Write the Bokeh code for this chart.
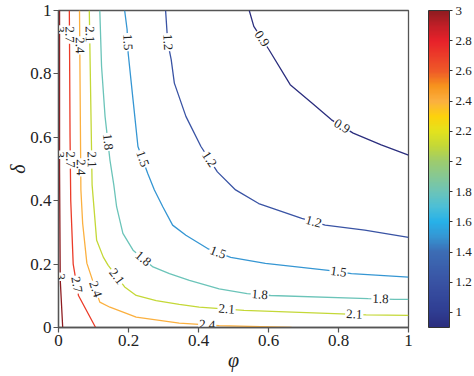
import math
from bokeh.plotting import figure
from bokeh.models import (ColumnDataSource, LinearColorMapper, ColorBar, FixedTicker, Range1d)
from bokeh.transform import transform
from bokeh.core.properties import value
from bokeh.embed import file_html
from bokeh.resources import INLINE

# ---------------- data ----------------
levels = [0.9, 1.2, 1.5, 1.8, 2.1, 2.4, 2.7, 3.0]
level_text = ["0.9", "1.2", "1.5", "1.8", "2.1", "2.4", "2.7", "3"]

phi_09 = [0.545, 0.558, 0.601, 0.662, 0.724, 0.780, 0.842, 0.922, 1.0]
delta_09 = [1.0, 0.950, 0.877, 0.766, 0.708, 0.655, 0.613, 0.576, 0.544]

phi_12 = [0.306, 0.312, 0.322, 0.331, 0.364, 0.407, 0.454, 0.506, 0.572, 0.695, 0.762, 0.875, 1.0]
delta_12 = [1.0, 0.90, 0.845, 0.771, 0.666, 0.571, 0.491, 0.434, 0.391, 0.344, 0.323, 0.307, 0.284]

phi_15 = [0.189, 0.196, 0.199, 0.213, 0.227, 0.255, 0.274, 0.298, 0.326, 0.364, 0.426, 0.492, 0.591, 0.771, 0.837, 1.0]
delta_15 = [1.0, 0.94, 0.866, 0.718, 0.571, 0.486, 0.434, 0.381, 0.323, 0.291, 0.249, 0.221, 0.202, 0.180, 0.170, 0.159]

phi_18 = [0.118, 0.123, 0.133, 0.147, 0.158, 0.166, 0.184, 0.213, 0.270, 0.317, 0.374, 0.459, 0.539, 0.606, 0.885, 0.960, 1.0]
delta_18 = [1.0, 0.824, 0.666, 0.528, 0.450, 0.381, 0.297, 0.244, 0.191, 0.170, 0.149, 0.122, 0.107, 0.101, 0.091, 0.089, 0.089]

phi_21 = [0.088, 0.096, 0.109, 0.128, 0.142, 0.189, 0.222, 0.279, 0.345, 0.402, 0.530, 0.808, 0.879, 1.0]
delta_21 = [1.0, 0.45, 0.275, 0.222, 0.196, 0.128, 0.101, 0.085, 0.073, 0.064, 0.054, 0.043, 0.040, 0.038]

phi_24 = [0.060, 0.064, 0.069, 0.081, 0.118, 0.147, 0.222, 0.345, 0.459, 0.666]
delta_24 = [1.0, 0.434, 0.329, 0.203, 0.080, 0.064, 0.033, 0.014, 0.006, 0.0]

phi_27 = [0.031, 0.033, 0.035, 0.042, 0.057, 0.106]
delta_27 = [1.0, 0.6, 0.4, 0.2, 0.101, 0.0]

phi_30 = [0.003, 0.003, 0.005, 0.012]
delta_30 = [1.0, 0.5, 0.15, 0.0]

# label anchor points (phi, delta) per level
labels_09 = [(0.58, 0.91), (0.81, 0.635)]
labels_12 = [(0.31, 0.90), (0.43, 0.53), (0.728, 0.33)]
labels_15 = [(0.195, 0.90), (0.235, 0.53), (0.455, 0.235), (0.80, 0.175)]
labels_18 = [(0.138, 0.585), (0.24, 0.215), (0.575, 0.103), (0.92, 0.09)]
labels_21 = [(0.09, 0.925), (0.093, 0.53), (0.165, 0.16), (0.48, 0.055), (0.845, 0.042)]
labels_24 = [(0.061, 0.89), (0.063, 0.505), (0.09, 0.115), (0.425, 0.01)]
labels_27 = [(0.032, 0.924), (0.034, 0.53), (0.05, 0.135)]
labels_30 = [(0.003, 0.94), (0.003, 0.545), (0.005, 0.16)]

x_ticks = [0, 0.2, 0.4, 0.6, 0.8, 1]
y_ticks = [0, 0.2, 0.4, 0.6, 0.8, 1]
cb_ticks = [1, 1.2, 1.4, 1.6, 1.8, 2, 2.2, 2.4, 2.6, 2.8, 3]

FONT = '"Liberation Serif", "Times New Roman", serif'

# ---------------- colour map (jet-like, from the colour bar) ----------------
anchors = [(0.9, "#2b2e7e"), (1.0, "#2f3d92"), (1.2, "#3953a4"), (1.4, "#3c6db5"),
           (1.5, "#3596d3"), (1.6, "#27b1e9"), (1.7, "#4dbfd6"), (1.8, "#6cc4b8"),
           (1.9, "#86c894"), (2.0, "#9dcb6e"), (2.1, "#c3d838"), (2.2, "#e3e31d"),
           (2.3, "#fdd20c"), (2.4, "#fbb040"), (2.5, "#f7941d"), (2.6, "#ef5a28"),
           (2.8, "#e8212a"), (2.9, "#c21f27"), (3.0, "#8e1c20")]

def hex2rgb(h):
    return [int(h[i:i + 2], 16) for i in (1, 3, 5)]

palette = []
N = 256
for i in range(N):
    v = 0.9 + (3.0 - 0.9) * i / (N - 1)
    for j in range(len(anchors) - 1):
        a, ca = anchors[j]
        b, cb = anchors[j + 1]
        if a <= v <= b + 1e-9:
            t = (v - a) / (b - a)
            r1, r2 = hex2rgb(ca), hex2rgb(cb)
            c = [round(r1[k] + (r2[k] - r1[k]) * t) for k in range(3)]
            palette.append("#%02x%02x%02x" % tuple(c))
            break

mapper = LinearColorMapper(palette=palette, low=0.9, high=3.0)

# ---------------- figure ----------------
X0, X1, Y0, Y1 = 0.0, 1.0, 0.0, 1.0
FW, FH = 352, 317

p = figure(width=474, height=376, x_range=Range1d(X0, X1), y_range=Range1d(Y0, Y1),
           output_backend="svg", toolbar_location=None,
           min_border_left=58, min_border_right=63, min_border_top=10, min_border_bottom=49)
p.grid.visible = False
p.background_fill_color = "white"
p.outline_line_color = "#555555"
p.outline_line_width = 1.3

all_x = [phi_09, phi_12, phi_15, phi_18, phi_21, phi_24, phi_27, phi_30]
all_y = [delta_09, delta_12, delta_15, delta_18, delta_21, delta_24, delta_27, delta_30]
all_lab = [labels_09, labels_12, labels_15, labels_18, labels_21, labels_24, labels_27, labels_30]

src = ColumnDataSource(dict(xs=all_x, ys=all_y, level=levels))
p.multi_line("xs", "ys", source=src, line_color=transform("level", mapper), line_width=1.3)

# labels: snap onto the line, orient along it (pixel space)
sx = FW / (X1 - X0)
sy = FH / (Y1 - Y0)
lx, ly, la, lt = [], [], [], []
for xs, ys, labs, txt in zip(all_x, all_y, all_lab, level_text):
    for (qx, qy) in labs:
        best = None
        for k in range(len(xs) - 1):
            ax, ay = xs[k] * sx, ys[k] * sy
            bx, by = xs[k + 1] * sx, ys[k + 1] * sy
            px, py = qx * sx, qy * sy
            dx, dy = bx - ax, by - ay
            L2 = dx * dx + dy * dy
            t = 0 if L2 == 0 else max(0, min(1, ((px - ax) * dx + (py - ay) * dy) / L2))
            cx, cy = ax + t * dx, ay + t * dy
            d = (cx - px) ** 2 + (cy - py) ** 2
            if best is None or d < best[0]:
                best = (d, cx, cy, math.atan2(dy, dx))
        _, cx, cy, ang = best
        if ang >= math.pi / 2 - 1e-6:
            ang -= math.pi
        elif ang < -math.pi / 2:
            ang += math.pi
        lx.append(cx / sx)
        ly.append(cy / sy)
        la.append(ang)
        lt.append(txt)

lsrc = ColumnDataSource(dict(x=lx, y=ly, angle=la, text=lt))
p.text("x", "y", text="text", angle="angle", source=lsrc,
       text_align="center", text_baseline="middle",
       text_font=value(FONT), text_font_size="13px", text_color="#222222",
       background_fill_color="white", padding=1)

# axes
for ax in (p.xaxis, p.yaxis):
    ax.axis_line_color = "#555555"
    ax.axis_line_width = 1.3
    ax.major_tick_line_color = "#555555"
    ax.major_tick_line_width = 1.2
    ax.major_tick_out = 5
    ax.major_tick_in = 0
    ax.minor_tick_line_color = None
    ax.major_label_standoff = 2
    ax.major_label_text_font = FONT
    ax.major_label_text_font_size = "17px"
    ax.major_label_text_color = "#222222"
    ax.axis_label_text_font = FONT
    ax.axis_label_text_font_style = "italic"
    ax.axis_label_text_font_size = "20px"
    ax.axis_label_text_color = "#222222"

p.xaxis.ticker = FixedTicker(ticks=x_ticks)
p.yaxis.ticker = FixedTicker(ticks=y_ticks)
p.xaxis.major_label_overrides = {0: "0", 1: "1"}
p.yaxis.major_label_overrides = {0: "0", 1: "1"}
p.xaxis.axis_label = "φ"
p.yaxis.axis_label = "δ"
p.xaxis.axis_label_standoff = 0
p.yaxis.axis_label_standoff = -2

cbar = ColorBar(color_mapper=mapper, ticker=FixedTicker(ticks=cb_ticks),
                width=21, padding=0, margin=0, label_standoff=3,
                location=(20, 0),
                major_tick_in=0, major_tick_out=3, major_tick_line_color="#333333",
                minor_tick_line_color=None,
                bar_line_color="#333333", bar_line_width=1,
                major_label_text_font=FONT, major_label_text_font_size="13px",
                major_label_text_color="#222222",
                major_label_overrides={1: "1", 2: "2", 3: "3"},
                background_fill_alpha=0, border_line_color=None)
p.add_layout(cbar, "right")

open("out.html", "w").write(file_html(p, INLINE))
